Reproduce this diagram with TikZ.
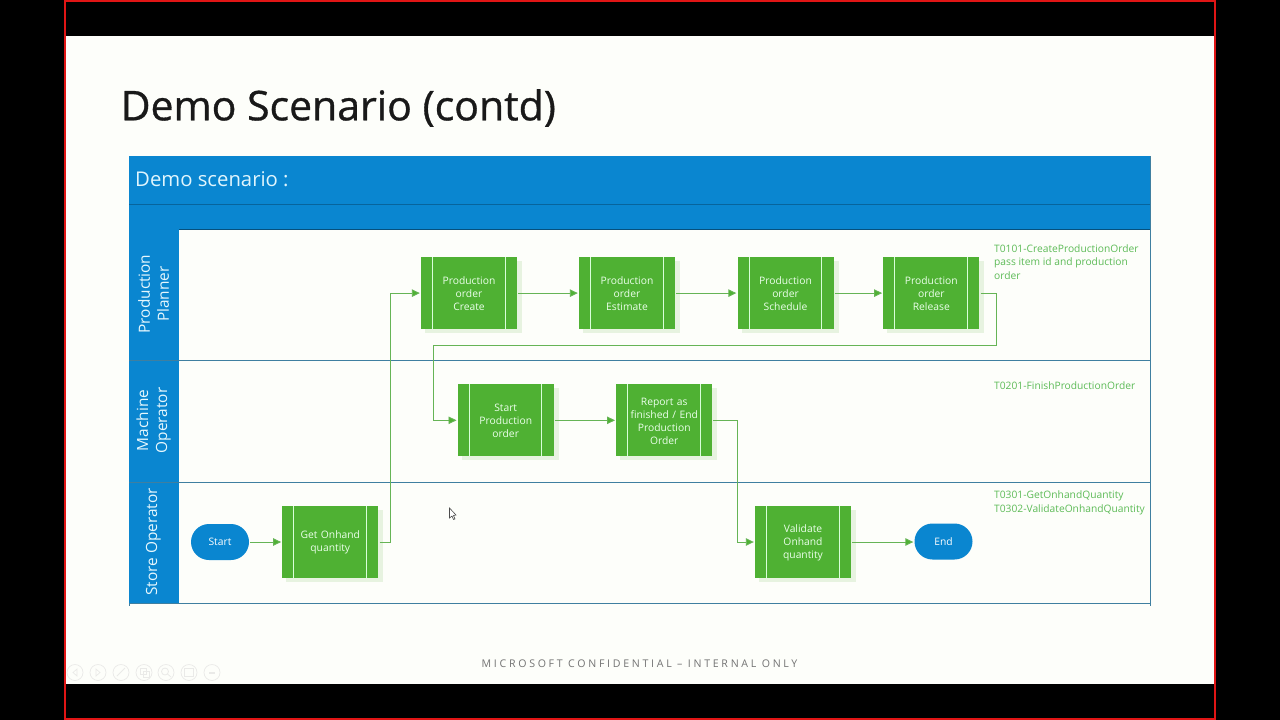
\documentclass[tikz,border=0pt]{standalone}
\usepackage{fontspec}
\setmainfont{Open Sans}
\newfontfamily\footfont[LetterSpace=25.5]{Open Sans}
\newfontfamily\titlefont[FakeBold=0.8]{Open Sans}
\usetikzlibrary{arrows.meta,shapes.misc,calc}
\definecolor{slidebg}{HTML}{FDFEFA}
\definecolor{msblue}{HTML}{0A86D0}
\definecolor{lanerule}{HTML}{3F7FA0}
\definecolor{boxgreen}{HTML}{4FB133}
\definecolor{linegreen}{HTML}{66B455}
\definecolor{notegreen}{HTML}{5DBB57}
\definecolor{shadowgreen}{HTML}{E7F3E0}
\definecolor{iconc}{HTML}{EAEAE8}
\definecolor{framered}{HTML}{E01515}
\tikzset{
  x=1pt,y=-1pt,
  procbox/.style={draw=none,fill=boxgreen,minimum width=96pt,minimum height=72pt,inner sep=0pt,
    text width=76pt,align=center,text=white!92!green,font=\fontsize{10.3}{13}\selectfont,
    execute at begin node={\rule{0pt}{8.6pt}},
    path picture={
      \draw[white!85!green,line width=1pt]
        ($(path picture bounding box.south west)+(11.5pt,0)$) -- ($(path picture bounding box.north west)+(11.5pt,0)$)
        ($(path picture bounding box.south east)+(-12pt,0)$) -- ($(path picture bounding box.north east)+(-12pt,0)$);
    }},
  boxshadow/.style={fill=shadowgreen,draw=none},
  terminal/.style={rounded rectangle,fill=msblue,text=white,minimum width=58pt,minimum height=36pt,inner sep=0pt,
    font=\fontsize{10.3}{13}\selectfont},
  lanelabel/.style={rotate=90,align=center,text=white!90!cyan,font=\fontsize{15.4}{19}\selectfont},
  note/.style={anchor=north west,inner sep=0pt,align=left,text=notegreen,font=\fontsize{10.25}{13.3}\selectfont},
  flow/.style={draw=linegreen,line width=0.9pt,shorten <=1pt,shorten >=1pt,-{Triangle[length=8pt,width=7.5pt,fill=boxgreen]}},
  lanesep/.style={draw=lanerule,line width=1pt},
  toolicon/.style={circle,draw=iconc,line width=0.7pt,minimum size=16pt,inner sep=0pt},
}
\begin{document}
\begin{tikzpicture}
\useasboundingbox (0,0) rectangle (1280,720);
\fill[black] (0,0) rectangle (1280,720);
\fill[slidebg] (65,36) rectangle (1215,684);
\draw[framered,line width=1.6pt] (65,1) -- (1215,1) -- (1215,719) -- (65,719) -- cycle;
\node[anchor=west,inner sep=0pt,text=black!90,font=\titlefont\fontsize{41}{46}\selectfont] (title) at (120.5,108) {Demo Scenario (contd)};
% swimlane frame
\fill[msblue] (129,156) rectangle (1150,229);
\draw[msblue!75!black,line width=0.9pt] (129,204) -- (1150,204);
\draw[msblue!60!black,line width=0.9pt] (129,229) -- (1150,229);
\fill[msblue] (129,229) rectangle (179,603);
\node[anchor=west,inner sep=0pt,text=white!88!cyan,font=\fontsize{20.3}{24}\selectfont] (head) at (135,179) {Demo scenario :};
\draw[lanesep] (129,360) -- (1150,360);
\draw[lanesep] (129,482) -- (1150,482);
\draw[lanesep] (129,603) -- (1150,603);
\draw[lanesep] (1150,156) -- (1150,603);
\draw[lanesep,line width=0.6pt] (129,603) -- (129,606);
\draw[lanesep,line width=0.6pt] (1150,603) -- (1150,606);
\node[lanelabel] (l1) at (153.5,294) {Production\\Planner};
\node[lanelabel] (l2) at (153.5,420.5) {Machine\\Operator};
\node[lanelabel] (l3) at (153.5,542) {Store Operator};
% shadows
\foreach \px/\py in {469/293,627/293,785.5/293,931.3/293,505.7/420.3,664.2/420.3,330.3/542,803/542}{
  \fill[boxshadow] (\px-44,\py-32) rectangle (\px+53,\py+40);
}
% nodes
\node[procbox] (create) at (469,293.1) {Production\\order\\Create};
\node[procbox] (estimate) at (627,293.1) {Production\\order\\Estimate};
\node[procbox] (schedule) at (785.5,293.1) {Production\\order\\Schedule};
\node[procbox] (release) at (931.3,293.1) {Production\\order\\Release};
\node[procbox] (startpo) at (505.7,420.3) {Start\\Production\\order};
\node[procbox] (report) at (664.2,420.3) {Report as\\finished / End\\Production\\Order};
\node[procbox] (onhand) at (330.3,542) {Get Onhand\\quantity};
\node[procbox] (validate) at (803,542) {Validate\\Onhand\\quantity};
\node[terminal] (start) at (220,542) {Start};
\node[terminal] (finish) at (943.5,541.5) {End};
% notes
\node[note] (n1) at (994,244.5) {T0101-CreateProductionOrder\\pass item id and production\\order};
\node[note] (n2) at (994,381.5) {T0201-FinishProductionOrder};
\node[note,font=\fontsize{10.25}{14}\selectfont] (n3) at (994,490.5) {T0301-GetOnhandQuantity\\T0302-ValidateOnhandQuantity};
% connectors
\draw[flow] (start.east) -- (onhand.west);
\draw[flow] (onhand.east) -- ++(11.7,0) |- (create.west);
\draw[flow] (create.east) -- (estimate.west);
\draw[flow] (estimate.east) -- (schedule.west);
\draw[flow] (schedule.east) -- (release.west);
\draw[flow] (release.east) -- ++(16.7,0) |- ++(-563,52.4) |- (startpo.west);
\draw[flow] (startpo.east) -- (report.west);
\draw[flow] (report.east) -- ++(24.8,0) |- (validate.west);
\draw[flow] (validate.east) -- (validate.east -| finish.west);
% cursor
\draw[black!70,fill=white,line width=0.6pt] (449.5,508) -- (449.5,518) -- (452,516) -- (453.5,519.5) -- (455,519) -- (453.5,515.5) -- (456,515) -- cycle;
% footer
\node[inner sep=0pt,text=black!55,font=\footfont\fontsize{10.6}{13}\selectfont] (foot) at (639.5,663.5) {MICROSOFT CONFIDENTIAL – INTERNAL ONLY};
% toolbar
\foreach \ix in {75,98,121,144,166,189,212}{ \node[toolicon] (t\ix) at (\ix,672.5) {}; }
\draw[iconc,line width=0.7pt] (77,669) -- (73,672.5) -- (77,676) -- cycle;
\draw[iconc,line width=0.7pt] (96,669) -- (100,672.5) -- (96,676) -- cycle;
\draw[iconc,line width=0.9pt] (117,676) -- (125,668);
\draw[iconc,line width=0.7pt] (140,668) rectangle (146,674) (143,671) rectangle (149,677);
\draw[iconc,line width=0.8pt] (165,671.5) circle (3.5) (167.5,674) -- (171,677);
\draw[iconc,line width=0.8pt] (184.5,668.5) rectangle (193.5,676.5);
\fill[iconc] (209,671.5) rectangle (215,673.5);
\end{tikzpicture}
\end{document}
